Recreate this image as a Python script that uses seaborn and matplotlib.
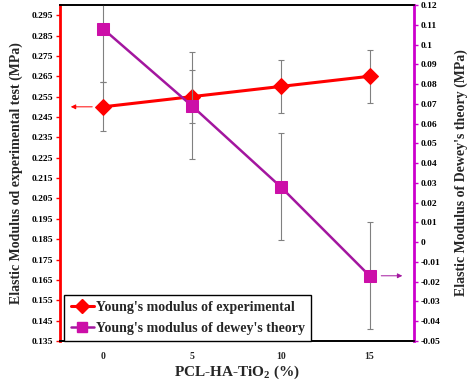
import matplotlib
matplotlib.use("Agg")
import matplotlib.pyplot as plt
import seaborn as sns
import pandas as pd
from matplotlib.lines import Line2D

# data
content = [0, 5, 10, 15]
exp_modulus = [0.250, 0.255, 0.260, 0.265]
exp_err = [0.012, 0.013, 0.013, 0.013]
dewey_modulus = [0.108, 0.069, 0.028, -0.017]
dewey_err = [0.027, 0.027, 0.027, 0.027]

left_ticks = [0.135 + 0.01 * i for i in range(17)]
right_ticks = [round(-0.05 + 0.01 * i, 2) for i in range(18)]
x_ticks = [0, 5, 10, 15]

RED = '#FF0000'
MAG_LINE = '#A3169F'
MAG_MARK = '#CC0FA8'
MAG_AXIS = '#CC00CC'

sns.set_style("white")
plt.rcParams['font.family'] = ['Liberation Serif', 'DejaVu Serif']
plt.rcParams['font.weight'] = 'bold'
plt.rcParams['mathtext.fontset'] = 'custom'
plt.rcParams['mathtext.rm'] = 'Liberation Serif:bold'
plt.rcParams['mathtext.bf'] = 'Liberation Serif:bold'

df = pd.DataFrame({'content': content, 'exp': exp_modulus, 'dewey': dewey_modulus})

fig = plt.figure(figsize=(4.74, 3.82), dpi=100)
ax = fig.add_axes([0.1266, 0.1073, 0.7468, 0.8796])
ax2 = ax.twinx()

# error bars (grey, thin)
ax.errorbar(content, exp_modulus, yerr=exp_err, fmt='none', ecolor='#808080',
            elinewidth=0.8, capsize=2.5, capthick=0.8, zorder=1)
ax2.errorbar(content, dewey_modulus, yerr=dewey_err, fmt='none', ecolor='#808080',
             elinewidth=0.8, capsize=2.5, capthick=0.8, zorder=1)

sns.lineplot(data=df, x='content', y='exp', ax=ax, color=RED, linewidth=2.2,
             marker='D', markersize=8, markeredgecolor=RED, markerfacecolor=RED,
             zorder=3)
sns.lineplot(data=df, x='content', y='dewey', ax=ax2, color=MAG_LINE, linewidth=1.8,
             marker='s', markersize=8, markeredgecolor=MAG_MARK, markerfacecolor=MAG_MARK,
             zorder=3)

ax.set_xlim(-2.42, 17.5)
ax.set_ylim(0.135, 0.300)
ax2.set_ylim(-0.05, 0.12)

ax.set_xticks(x_ticks)
ax.set_xticklabels([str(v) for v in x_ticks], fontsize=7, fontweight='bold')
ax.set_yticks(left_ticks)
ax.set_yticklabels([f"{v:.3f}" for v in left_ticks], fontsize=6.8, fontweight='bold')
ax2.set_yticks(right_ticks)
ax2.set_yticklabels([f"{v:g}" for v in right_ticks], fontsize=6.8, fontweight='bold')

ax.tick_params(axis='x', length=0, pad=8)
ax.tick_params(axis='y', colors=RED, labelcolor='black', length=3, width=1, direction='out', pad=2)
ax2.tick_params(axis='y', colors=MAG_AXIS, labelcolor='black', length=3, width=1, direction='out', pad=2)

for a in (ax, ax2):
    a.spines['top'].set_color('black')
    a.spines['bottom'].set_color('black')
    a.spines['top'].set_linewidth(1.2)
    a.spines['bottom'].set_linewidth(1.2)
ax.spines['left'].set_color(RED)
ax.spines['left'].set_linewidth(2)
ax2.spines['left'].set_visible(False)
ax2.spines['right'].set_color(MAG_AXIS)
ax2.spines['right'].set_linewidth(2)
ax.spines['right'].set_visible(False)

ax.set_xlabel("PCL-HA-TiO$_2$ (%)", fontsize=11, fontweight='bold', labelpad=2)
ax.set_ylabel("Elastic Modulus od experimental test (MPa)", fontsize=10, fontweight='bold', labelpad=6)
ax2.set_ylabel("Elastic Modulus of Dewey's theory (MPa)", fontsize=10, fontweight='bold', labelpad=10)

# axis pointer arrows
ax.annotate('', xy=(-1.97, exp_modulus[0]), xytext=(-0.45, exp_modulus[0]),
            arrowprops=dict(arrowstyle='-|>', color=RED, lw=0.7, mutation_scale=7))
ax2.annotate('', xy=(17.0, dewey_modulus[-1]), xytext=(15.5, dewey_modulus[-1]),
             arrowprops=dict(arrowstyle='-|>', color=MAG_LINE, lw=0.7, mutation_scale=7))

handles = [
    Line2D([], [], color=RED, lw=2.2, marker='D', markersize=7, markerfacecolor=RED),
    Line2D([], [], color=MAG_LINE, lw=1.8, marker='s', markersize=7,
           markerfacecolor=MAG_MARK, markeredgecolor=MAG_MARK),
]
if ax.get_legend():
    ax.get_legend().remove()
if ax2.get_legend():
    ax2.get_legend().remove()
leg = ax2.legend(handles, ["Young's modulus of experimental", "Young's modulus of dewey's theory"],
                 loc='lower left', bbox_to_anchor=(0.012, 0.0), fancybox=False, framealpha=1,
                 edgecolor='black', prop={'family': 'Liberation Serif', 'weight': 'bold', 'size': 10},
                 handlelength=1.7, handletextpad=0.1, borderpad=0.45, labelspacing=0.55,
                 borderaxespad=0.0)
leg.get_frame().set_linewidth(1.0)

fig.savefig('out.png', dpi=100)
